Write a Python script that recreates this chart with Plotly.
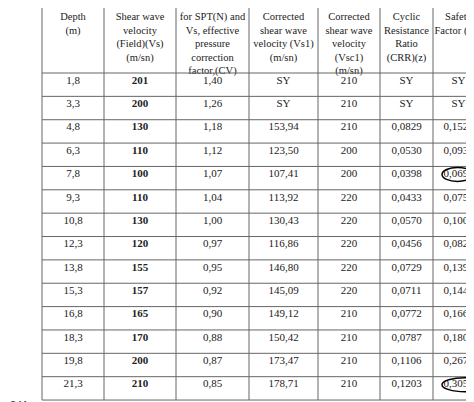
import plotly.graph_objects as go

headers = ["Depth<br>(m)", "Shear wave<br>velocity<br>(Field)(Vs)<br>(m/sn)",
           "for SPT(N) and<br>Vs, effective<br>pressure<br>correction<br>factor,(CV)",
           "Corrected<br>shear wave<br>velocity (Vs1)<br>(m/sn)",
           "Corrected<br>shear wave<br>velocity<br>(Vsc1)<br>(m/sn)",
           "Cyclic<br>Resistance<br>Ratio<br>(CRR)(z)", "Safety<br>Factor (SF)"]
depth = ["1,8", "3,3", "4,8", "6,3", "7,8", "9,3", "10,8", "12,3", "13,8", "15,3", "16,8", "18,3", "19,8", "21,3"]
vs = ["201", "200", "130", "110", "100", "110", "130", "120", "155", "157", "165", "170", "200", "210"]
cv = ["1,40", "1,26", "1,18", "1,12", "1,07", "1,04", "1,00", "0,97", "0,95", "0,92", "0,90", "0,88", "0,87", "0,85"]
vs1 = ["SY", "SY", "153,94", "123,50", "107,41", "113,92", "130,43", "116,86", "146,80", "145,09", "149,12", "150,42", "173,47", "178,71"]
vsc1 = ["210", "210", "210", "200", "200", "220", "220", "220", "220", "220", "210", "210", "210", "210"]
crr = ["SY", "SY", "0,0829", "0,0530", "0,0398", "0,0433", "0,0570", "0,0456", "0,0729", "0,0711", "0,0772", "0,0787", "0,1106", "0,1203"]
sf = ["SY", "SY", "0,1522", "0,0935", "0,0691", "0,0750", "0,1001", "0,0829", "0,1392", "0,1440", "0,1663", "0,1801", "0,2676", "0,3055"]
circled = ["0,0691", "0,3055"]

W, H = 474, 402
col_edges = [34, 96, 168, 241, 310, 372, 425, 476]
head_h, row_h = 65, 23.36
columns = [depth, vs, cv, vs1, vsc1, crr, sf]
centers = [(a + b) / 2 for a, b in zip(col_edges[:-1], col_edges[1:])]
row_edges = [head_h + i * row_h for i in range(len(depth) + 1)]
font = dict(family="Liberation Serif", size=11, color="#222")

fig = go.Figure()
# header
fig.add_trace(go.Scatter(x=centers, y=[4] * len(headers), mode="text", text=headers,
                         textposition="bottom center", textfont=dict(family="Liberation Serif", size=10.5, color="#222"),
                         hoverinfo="skip"))
# body
for j, col in enumerate(columns):
    txt = ["<b>" + v + "</b>" for v in col] if j == 1 else col
    fig.add_trace(go.Scatter(x=[centers[j]] * len(col), y=[e + 8 for e in row_edges[:-1]],
                             mode="text", text=txt, textfont=font, hoverinfo="skip"))

line = dict(color="#666", width=1)
for x in col_edges[:-1]:
    fig.add_shape(type="line", x0=x, x1=x, y0=-5, y1=row_edges[-1], line=line)
for y in row_edges:
    fig.add_shape(type="line", x0=col_edges[0], x1=col_edges[-1], y0=y, y1=y, line=line)

# hand-drawn ellipses
for i, v in enumerate(sf):
    if v in circled:
        y = row_edges[i] + 8
        fig.add_shape(type="circle", x0=434, x1=465 if i < 13 else 480, y0=y - 7, y1=y + 7,
                      line=dict(color="black", width=1.5))

fig.add_annotation(text="341", x=0, y=397, xanchor="left", yanchor="middle", showarrow=False,
                   font=dict(family="Liberation Sans", size=11, color="#333"))

fig.update_xaxes(range=[0, W], visible=False, fixedrange=True)
fig.update_yaxes(range=[H, 0], visible=False, fixedrange=True)
fig.update_layout(width=W, height=H, margin=dict(l=0, r=0, t=0, b=0),
                  paper_bgcolor="white", plot_bgcolor="white", showlegend=False)
fig.write_html("out.html")
